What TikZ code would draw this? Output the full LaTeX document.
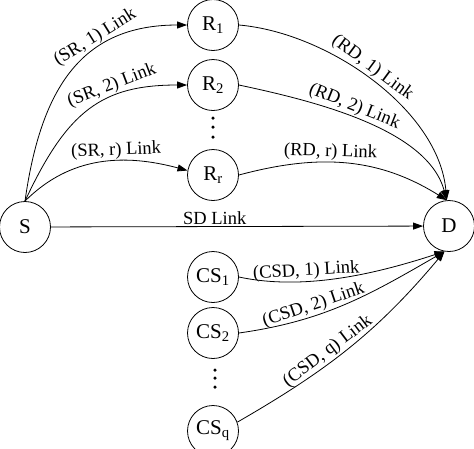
\documentclass[tikz,border=0pt]{standalone}
\usepackage{fontspec}
\setmainfont{Liberation Serif}
\usetikzlibrary{arrows.meta}
\begin{document}
\begin{tikzpicture}[x=1pt,y=1pt,
  nd/.style={circle,draw,line width=0.8pt,minimum size=51pt,inner sep=0pt,font=\fontsize{21}{21}\selectfont},
  lk/.style={line width=0.8pt,-{Triangle[length=10pt,width=7pt]}},
  lb/.style={font=\fontsize{18.5}{18.5}\selectfont,sloped,above,inner sep=1.5pt},
  vd/.style={circle,fill,inner sep=0pt,minimum size=3.5pt}]
\useasboundingbox (0,0) rectangle (474,-448);
\node[nd] (S) at (25,-227) {S};
\node[nd] (D) at (449,-226) {D};
\node[nd] (R1) at (213,-25) {R\textsubscript{1}};
\node[nd] (R2) at (213,-85) {R\textsubscript{2}};
\node[nd] (Rr) at (213,-175) {R\textsubscript{r}};
\node[nd] (C1) at (213,-277) {CS\textsubscript{1}};
\node[nd] (C2) at (213,-333) {CS\textsubscript{2}};
\node[nd] (Cq) at (213,-431) {CS\textsubscript{q}};
\node[vd] (a1) at (213,-118) {};
\node[vd] (a2) at (213,-127) {};
\node[vd] (a3) at (213,-137) {};
\node[vd] (b1) at (215,-370) {};
\node[vd] (b2) at (215,-378) {};
\node[vd] (b3) at (215,-387) {};
\draw[lk] (S.north) to[out=82,in=180,out distance=115pt,in distance=105pt] node[lb,pos=0.66]{(SR, 1) Link} (R1.west);
\draw[lk] (S.north) to[out=65,in=180,out distance=100pt,in distance=85pt] node[lb,pos=0.66]{(SR, 2) Link} (R2.west);
\draw[lk] (S.north) to[out=45,in=165] node[lb,pos=0.6]{(SR, r) Link} (Rr.170);
\draw[lk] (R1.east) to[out=-5,in=95,looseness=0.85] node[lb,pos=0.47]{(RD, 1) Link} (D.95);
\draw[lk] (R2.east) to[out=-12,in=105,looseness=0.8] node[lb,pos=0.45]{(RD, 2) Link} (D.95);
\draw[lk] (Rr.east) to[out=15,in=148] node[lb,pos=0.42]{(RD, r) Link} (D.95);
\draw[lk] (S) -- node[lb,pos=0.44]{SD Link} (D);
\draw[lk] (C1.east) to[out=-12,in=198,looseness=0.85] node[lb,pos=0.33]{(CSD, 1) Link} (D.260);
\draw[lk] (C2.east) to[out=8,in=210] node[lb,pos=0.35]{(CSD, 2) Link} (D.260);
\draw[lk] (Cq.20) to[out=30,in=230] node[lb,pos=0.42]{(CSD, q) Link} (D.260);
\end{tikzpicture}
\end{document}
